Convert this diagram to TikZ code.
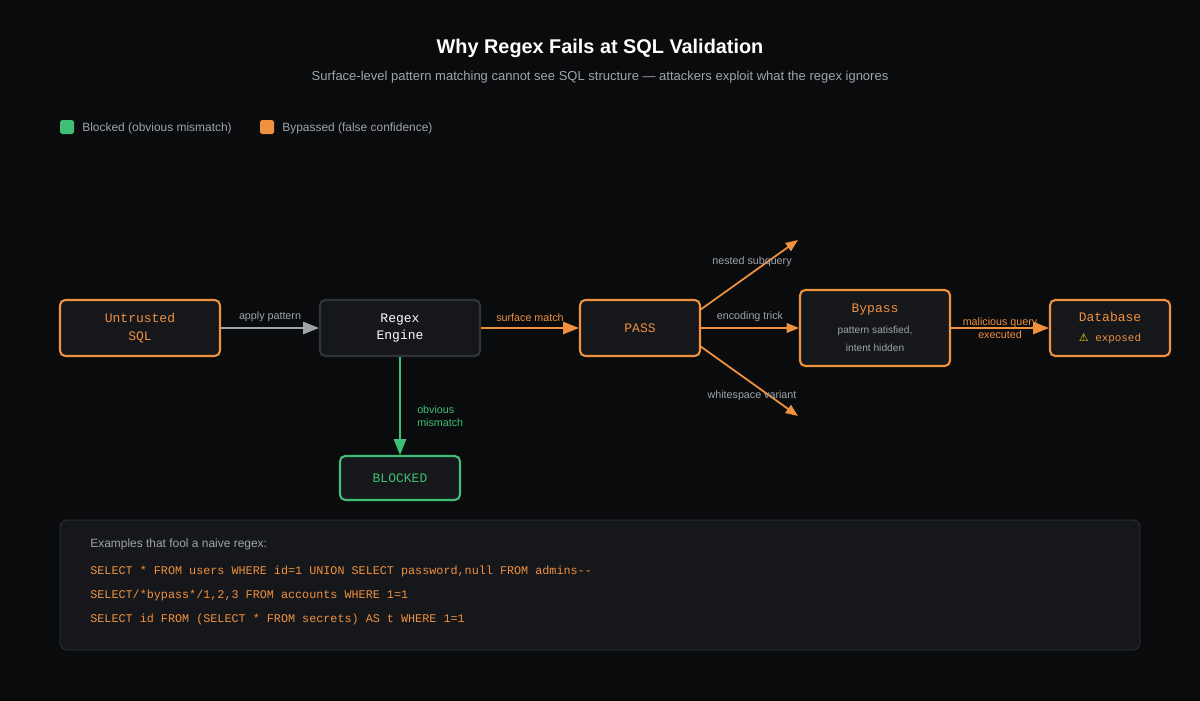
\documentclass[tikz,border=0pt]{standalone}
\usepackage{fontspec}
\setmainfont{Liberation Sans}
\setmonofont{Liberation Mono}
\newfontfamily\symfont{DejaVu Sans}
\usetikzlibrary{arrows.meta}
\definecolor{bgcol}{HTML}{0A0B0D}
\definecolor{boxfill}{HTML}{15171B}
\definecolor{orng}{HTML}{F0913F}
\definecolor{grn}{HTML}{3FBF73}
\definecolor{greytxt}{HTML}{A0A4AA}
\definecolor{edgegrey}{HTML}{30343A}
\tikzset{
  stagebox/.style={draw=orng, line width=1.2pt, fill=boxfill, rounded corners=3pt, align=center, font=\ttfamily\fontsize{7.4}{10}\selectfont, text=orng, inner sep=0pt},
  flow/.style={-{Triangle[length=9pt,width=7pt]}, line width=1pt, draw=orng},
  lbl/.style={font=\fontsize{6.1}{7.5}\selectfont, text=greytxt}
}
\begin{document}
\begin{tikzpicture}[x=0.02cm, y=-0.02cm]
\useasboundingbox (0,0) rectangle (1200,700);
\fill[bgcol] (-5,-5) rectangle (1205,705);
% title
\node[text=white, font=\bfseries\fontsize{11.3}{13}\selectfont] (title) at (600,48) {Why Regex Fails at SQL Validation};
\node[text=greytxt, font=\fontsize{7.4}{9}\selectfont] (subtitle) at (600,77) {Surface-level pattern matching cannot see SQL structure --- attackers exploit what the regex ignores};
% legend
\fill[grn, rounded corners=1pt] (60,120) rectangle (74,134);
\node[lbl, anchor=west, font=\fontsize{6.8}{8}\selectfont, inner sep=0pt] (legblk) at (82,128) {Blocked (obvious mismatch)};
\fill[orng, rounded corners=1pt] (260,120) rectangle (274,134);
\node[lbl, anchor=west, font=\fontsize{6.8}{8}\selectfont, inner sep=0pt] (legbyp) at (282,128) {Bypassed (false confidence)};
% nodes
\node[stagebox, minimum width=160*0.02cm, minimum height=56*0.02cm] (src) at (140,328) {Untrusted\\SQL};
\node[stagebox, draw=edgegrey, text=white, minimum width=160*0.02cm, minimum height=56*0.02cm] (regex) at (400,328) {Regex\\Engine};
\node[stagebox, minimum width=120*0.02cm, minimum height=56*0.02cm] (pass) at (640,328) {PASS};
\node[stagebox, minimum width=150*0.02cm, minimum height=76*0.02cm] (bypass) at (875,328) {Bypass\\[2pt]{\rmfamily\fontsize{5.8}{7.5}\selectfont\color{greytxt}pattern satisfied,}\\{\rmfamily\fontsize{5.8}{7.5}\selectfont\color{greytxt}intent hidden}};
\node[stagebox, minimum width=120*0.02cm, minimum height=56*0.02cm] (db) at (1110,328) {Database\\[1pt]{\fontsize{6.2}{8}\selectfont{\symfont\color{yellow!85!orange}⚠}\ exposed}};
\node[stagebox, draw=grn, text=grn, minimum width=120*0.02cm, minimum height=44*0.02cm] (blocked) at (400,478) {BLOCKED};
\coordinate (nestend) at (798,240);
\coordinate (wsend) at (798,416);
% connectors
\draw[flow, draw=greytxt, -{Triangle[length=9pt,width=7pt,fill=greytxt]}] (src) -- node[lbl, above] {apply pattern} (regex);
\draw[flow] (regex) -- node[lbl, above, text=orng] {surface match} (pass);
\draw[flow, draw=grn] (regex) -- node[lbl, right, text=grn, align=left, pos=0.6, xshift=6pt] {obvious\\mismatch} (blocked);
\draw[flow, -{Triangle[length=7pt,width=5.5pt]}] (700,310) -- (nestend);
\node[lbl] (nestlbl) at (752,262) {nested subquery};
\draw[flow, -{Triangle[length=7pt,width=5.5pt]}] (pass) -- node[lbl, above] {encoding trick} (bypass);
\draw[flow, -{Triangle[length=7pt,width=5.5pt]}] (700,346) -- (wsend);
\node[lbl] (wslbl) at (752,396) {whitespace variant};
\draw[flow] (bypass) -- node[lbl, text=orng, align=center] {malicious query\\executed} (db);
% examples panel
\draw[fill=boxfill, draw=edgegrey, rounded corners=4pt] (60,520) rectangle (1140,650);
\node[lbl, anchor=west, inner sep=0pt, font=\fontsize{6.8}{8}\selectfont] (exhead) at (90,544) {Examples that fool a naive regex:};
\foreach \y/\q in {571/{SELECT * FROM users WHERE id=1 UNION SELECT password,null FROM admins-{}-},
                   595/{SELECT/*bypass*/1,2,3 FROM accounts WHERE 1=1},
                   619/{SELECT id FROM (SELECT * FROM secrets) AS t WHERE 1=1}}
  \node[anchor=west, inner sep=0pt, text=orng, font=\ttfamily\fontsize{6.7}{8}\selectfont] at (90,\y) {\q};
\end{tikzpicture}
\end{document}
